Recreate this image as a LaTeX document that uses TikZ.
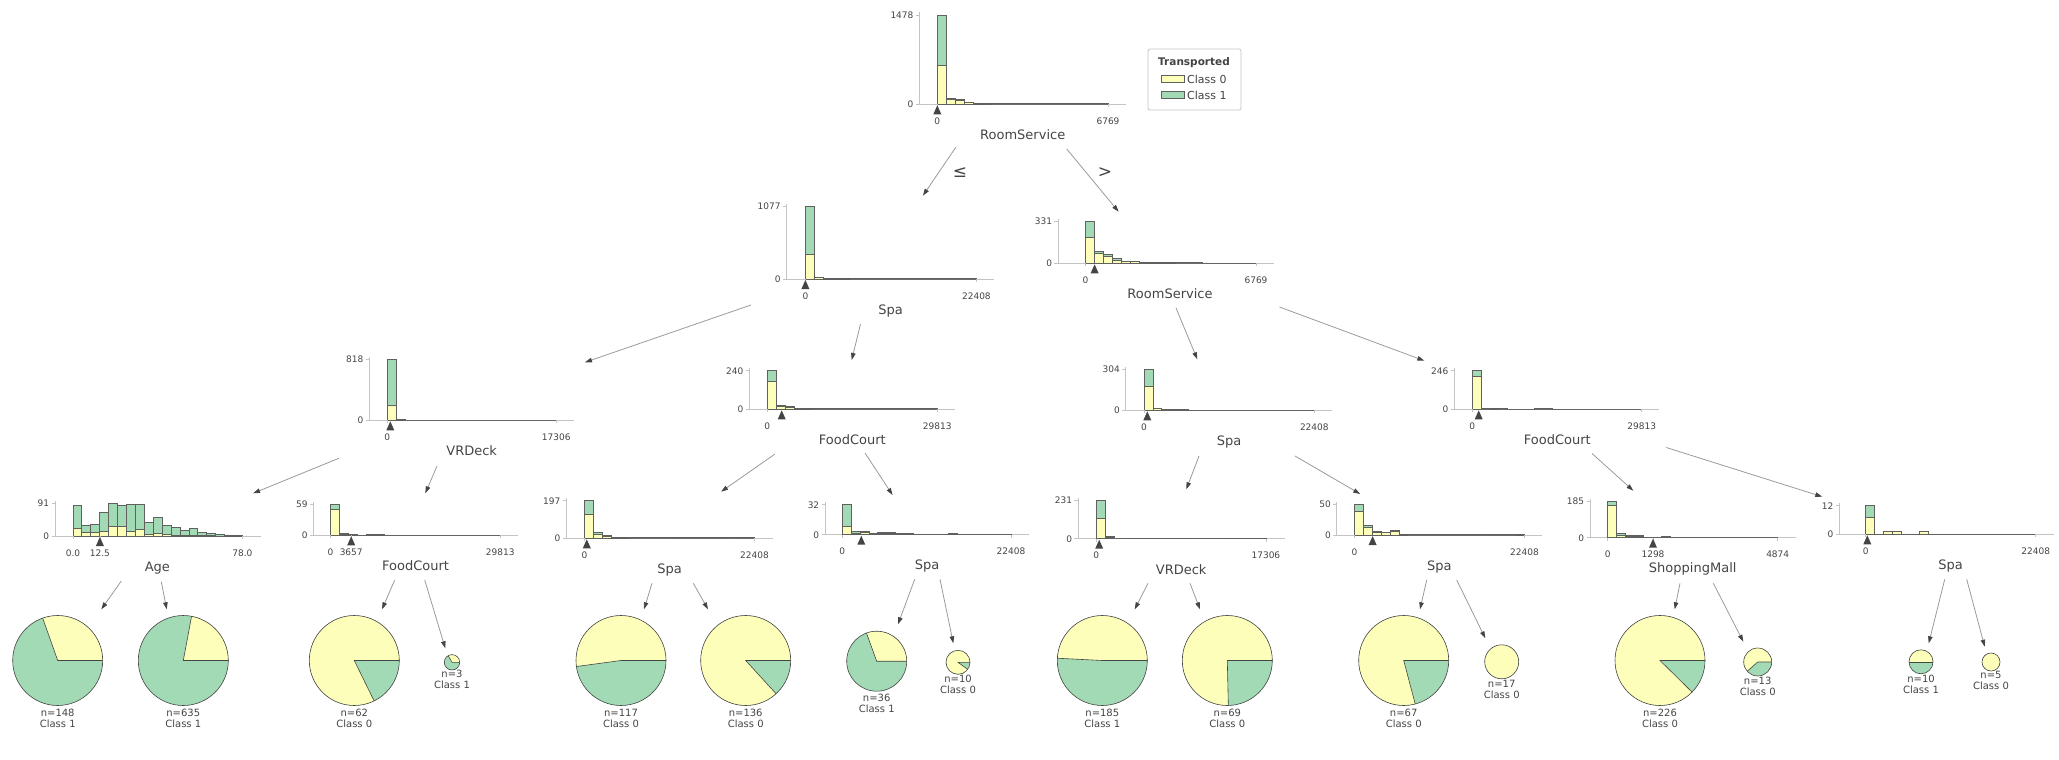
\documentclass[tikz,border=0pt]{standalone}
\usepackage{fontspec}
\setmainfont{DejaVu Sans}
\usetikzlibrary{arrows.meta}
\definecolor{classzero}{HTML}{FEFEBB}
\definecolor{classone}{HTML}{A1DAB4}
\definecolor{txt}{HTML}{444443}
\definecolor{axisgray}{HTML}{C4C4C4}
\definecolor{edgegray}{HTML}{9A9A9A}

\tikzset{
  axis/.style={draw=axisgray, line width=0.8pt},
  bar/.style={draw=txt!85, line width=0.9pt},
  fname/.style={font=\fontsize{13}{15}\selectfont, text=txt, inner sep=0pt, text height=0.73em, text depth=0pt},
  ticklbl/.style={font=\fontsize{9}{10}\selectfont, text=txt, inner sep=0pt, text height=0.73em, text depth=0pt},
  leaflbl/.style={font=\fontsize{10}{11}\selectfont, text=txt, inner sep=0pt, text height=0.73em, text depth=0pt},
  edge/.style={draw=edgegray, line width=0.8pt, -{Triangle[length=7pt,width=4.5pt,color=txt]}},
  pieline/.style={draw=txt, line width=0.6pt},
  pienode/.style={circle, inner sep=0pt},
}

% y axis, x axis and the two y ticks
\newcommand{\haxes}[5]{%
  \draw[axis] (#1,#2) -- (#5,#2);
  \draw[axis] (#1,#2) -- (#1,#3-2.5);
  \draw[axis] (#1,#3) -- (#1-3.5,#3) node[ticklbl,anchor=east,xshift=-2pt] {#4};
  \draw[axis] (#1,#2) -- (#1-3.5,#2) node[ticklbl,anchor=east,xshift=-2pt] {0};}
\newcommand{\xtick}[3]{%
  \draw[axis] (#1,#2) -- (#1,#2+3);
  \node[ticklbl] at (#1,#2+16.5) {#3};}
\newcommand{\splitmark}[2]{\fill[txt] (#1,#2+1) -- (#1+4,#2+10) -- (#1-4,#2+10) -- cycle;}
% stacked bars: x0, base, width, list of total/class-0 heights
\newcommand{\bars}[4]{%
  \foreach \hgt/\hy [count=\i from 0] in {#4}{
    \filldraw[bar,fill=classzero] ({#1+\i*#3},#2) rectangle ++(#3,-\hy);
    \filldraw[bar,fill=classone] ({#1+\i*#3},{#2-\hy}) rectangle ++(#3,{\hy-\hgt});
  }}
% leaf pie: name, x, y, radius, class-0 angle, n, class, label y
\newcommand{\pie}[8]{%
  \node[pienode, minimum size=2*#4] (#1) at (#2,#3) {};
  \fill[classone] (#1.center) circle (#4);
  \fill[classzero] (#1.center) -- ++(0:#4) arc[start angle=0, end angle=-#5, radius=#4] -- cycle;
  \draw[pieline] (#1.center) circle (#4);
  \ifdim #5pt<360pt \draw[pieline] (#1.center) ++(-#5:#4) -- (#1.center) -- ++(0:#4); \fi
  \node[leaflbl] (#1-n) at (#2,#8) {n=#6};
  \node[leaflbl] (#1-c) at (#2,#8+11) {Class #7};}

\begin{document}
\begin{tikzpicture}[x=1pt,y=-1pt]
\useasboundingbox (0,0) rectangle (2059,760);

% root
\haxes{919.3}{104.3}{15}{1478}{1126}
\bars{937.3}{104.3}{9}{89.3/38.6, 5.6/4.4, 4.6/3.6, 2.3/1.8, 1.2/0.9, 1/0.8, 0.5/0.5, 0.5/0.5, 0.8/0.8, 0.6/0.6, 0.6/0.6, 0.5/0.5, 0.5/0.5, 0.5/0.5, 0.5/0.5, 0.5/0.5, 0.5/0.5, 0.4/0.4, 0.4/0.4}
\xtick{937.3}{104.3}{0} \xtick{1108}{104.3}{6769}
\splitmark{937.3}{104.3}
\node[fname] (root) at (1022.7,136) {RoomService};
\coordinate (root-l) at (956,147);
\coordinate (root-r) at (1066.7,149);

% legend
\draw[draw=axisgray, fill=white, rounded corners=2pt, line width=0.8pt] (1148,49) rectangle (1241,110);
\node[font=\bfseries\fontsize{10.5}{12}\selectfont, text=txt] (lgd) at (1194,62.3) {Transported};
\filldraw[bar, line width=0.6pt, fill=classzero] (1161,75.7) rectangle (1184,82.3);
\node[font=\fontsize{11}{12}\selectfont, text=txt, anchor=west, inner sep=0pt] (lgd0) at (1187,79) {Class 0};
\filldraw[bar, line width=0.6pt, fill=classone] (1161,91.7) rectangle (1184,98.3);
\node[font=\fontsize{11}{12}\selectfont, text=txt, anchor=west, inner sep=0pt] (lgd1) at (1187,95) {Class 1};

% level 2: Spa
\haxes{786.4}{279}{206}{1077}{994}
\bars{805.4}{279}{9}{73/24.3, 2/1.5, 1/0.8, 0.7/0.7, 0.7/0.7, 0.5/0.5, 0.5/0.5, 0.5/0.5, 0.5/0.5, 0.5/0.5, 0.5/0.5, 0.5/0.5, 0.5/0.5, 0.5/0.5, 0.5/0.5, 0.5/0.5, 0.5/0.5, 0.5/0.5, 0.5/0.5}
\xtick{805.4}{279}{0} \xtick{976.4}{279}{22408}
\splitmark{805.4}{279}
\node[fname] (spaA) at (890.7,311) {Spa};
\coordinate (spaA-in) at (922.9,195.7);
\coordinate (spaA-l) at (751,305);
\coordinate (spaA-r) at (860.5,324);

% level 2: RoomService
\haxes{1057.9}{263.3}{221.3}{331}{1274}
\bars{1085.4}{263.3}{8.98}{42/26, 12.3/10, 9.3/7, 5/3, 2.3/1.8, 2.3/1.8, 1/0.7, 1.3/1, 1/0.8, 1/0.8, 0.8/0.8, 0.5/0.5, 0.8/0.8, 0.3/0.3, 0.3/0.3, 0.3/0.3, 0.3/0.3, 0.3/0.3, 0.3/0.3}
\xtick{1085.4}{263.3}{0} \xtick{1256}{263.3}{6769}
\splitmark{1094.6}{263.3}
\node[fname] (rsB) at (1170,295) {RoomService};
\coordinate (rsB-in) at (1118.6,211.7);
\coordinate (rsB-l) at (1176,308);
\coordinate (rsB-r) at (1279.5,307);

% level 3: VRDeck
\haxes{369.3}{420.3}{359.3}{818}{574}
\bars{387.3}{420.3}{8.9}{61/15, 1.3/1, 0.3/0.3, 0.3/0.3, 0.3/0.3, 0.3/0.3, 0.3/0.3, 0.3/0.3, 0.3/0.3, 0.3/0.3, 0.3/0.3, 0.3/0.3, 0.3/0.3, 0.3/0.3, 0.3/0.3, 0.3/0.3, 0.3/0.3, 0.3/0.3, 0.3/0.3}
\xtick{387.3}{420.3}{0} \xtick{556.3}{420.3}{17306}
\splitmark{390.3}{420.3}
\node[fname] (vrA) at (471.7,452.3) {VRDeck};
\coordinate (vrA-in) at (585,362.3);
\coordinate (vrA-l) at (338.8,458.3);
\coordinate (vrA-r) at (437,466);

% level 3: FoodCourt
\haxes{749.3}{409.3}{370.7}{240}{955}
\bars{767.3}{409.3}{8.95}{38.6/27.6, 4/2.5, 3/2, 1.3/1, 1/0.7, 0.5/0.5, 0.5/0.5, 0.5/0.5, 0.5/0.5, 0.5/0.5, 0.5/0.5, 0.5/0.5, 0.5/0.5, 0.5/0.5, 0.5/0.5, 0.5/0.5, 0.5/0.5, 0.5/0.5, 0.5/0.5}
\xtick{767.3}{409.3}{0} \xtick{937.3}{409.3}{29813}
\splitmark{781.7}{409.3}
\node[fname] (fcA) at (852.3,440.7) {FoodCourt};
\coordinate (fcA-in) at (851.7,360);
\coordinate (fcA-l) at (775,454);
\coordinate (fcA-r) at (865,453);

% level 3: Spa
\haxes{1125.7}{410.3}{369.3}{304}{1331.7}
\bars{1144}{410.3}{8.96}{41/24.3, 2/1.5, 1/0.8, 1/0.8, 1.3/1, 0.3/0.3, 0.3/0.3, 0.3/0.3, 0.3/0.3, 0.3/0.3, 0.3/0.3, 0.3/0.3, 0.3/0.3, 0.3/0.3, 0.3/0.3, 0.3/0.3, 0.3/0.3, 0.3/0.3, 0.3/0.3}
\xtick{1144}{410.3}{0} \xtick{1314.3}{410.3}{22408}
\splitmark{1147.3}{410.3}
\node[fname] (spaB) at (1229,442.3) {Spa};
\coordinate (spaB-in) at (1197.3,359.3);
\coordinate (spaB-l) at (1199,456);
\coordinate (spaB-r) at (1295,456);

% level 3: FoodCourt
\haxes{1454.3}{409.3}{370.7}{246}{1659.3}
\bars{1472.3}{409.3}{8.9}{38.6/32.6, 0.7/0.7, 1/0.8, 0.5/0.5, 0.3/0.3, 0.3/0.3, 0.3/0.3, 0.5/0.5, 0.5/0.5, 0.3/0.3, 0.3/0.3, 0.3/0.3, 0.3/0.3, 0.3/0.3, 0.3/0.3, 0.3/0.3, 0.3/0.3, 0.3/0.3, 0.3/0.3}
\xtick{1472.3}{409.3}{0} \xtick{1641.7}{409.3}{29813}
\splitmark{1478.7}{409.3}
\node[fname] (fcB) at (1557.3,440.7) {FoodCourt};
\coordinate (fcB-in) at (1424.3,360.7);
\coordinate (fcB-l) at (1592,453.5);
\coordinate (fcB-r) at (1666.2,447.5);

% level 4: Age
\haxes{55.1}{536}{503.3}{91}{260.7}
\bars{73}{536}{8.92}{30.7/7.3, 10.3/3.7, 11.7/3.7, 23.3/4.7, 32.7/9.3, 31/9.3, 32/4.7, 31.7/7, 13.3/1.7, 18.3/2.7, 11/1.7, 8.3/1, 5.3/0.7, 7.7/0.7, 3.7/0.3, 2.7/0.3, 1.7/0, 1/0, 0.7/0}
\xtick{73}{536}{0.0} \xtick{99.9}{536}{12.5} \xtick{242.4}{536}{78.0}
\splitmark{99.9}{536}
\node[fname] (age) at (157.4,567.7) {Age};
\coordinate (age-in) at (253.1,493.3);
\coordinate (age-l) at (121.3,581);
\coordinate (age-r) at (161.3,581.7);

% level 4: FoodCourt
\haxes{313.4}{535.3}{504.3}{59}{518.3}
\bars{330.6}{535.3}{8.93}{31/25.6, 1.7/1.3, 1/0.8, 0.3/0.3, 1.3/1, 1.3/1, 0.3/0.3, 0.3/0.3, 0.3/0.3, 0.3/0.3, 0.3/0.3, 0.3/0.3, 0.3/0.3, 0.3/0.3, 0.3/0.3, 0.3/0.3, 0.3/0.3, 0.3/0.3, 0.3/0.3}
\xtick{330.6}{535.3}{0} \xtick{351.2}{535.3}{3657} \xtick{500.3}{535.3}{29813}
\splitmark{351.2}{535.3}
\node[fname] (fcC) at (415.6,566.7) {FoodCourt};
\coordinate (fcC-in) at (425.3,493.3);
\coordinate (fcC-l) at (394.7,580);
\coordinate (fcC-r) at (424.7,580);

% level 4: Spa
\haxes{566.2}{538.3}{500.7}{197}{772.8}
\bars{584.4}{538.3}{8.95}{37.6/24, 6/4, 3/2, 1/0.7, 1/0.7, 0.5/0.5, 0.5/0.5, 0.5/0.5, 0.5/0.5, 0.5/0.5, 0.5/0.5, 0.5/0.5, 0.5/0.5, 0.5/0.5, 0.5/0.5, 0.5/0.5, 0.5/0.5, 0.5/0.5, 0.5/0.5}
\xtick{584.4}{538.3}{0} \xtick{754.5}{538.3}{22408}
\splitmark{586.8}{538.3}
\node[fname] (spaC) at (669.5,570) {Spa};
\coordinate (spaC-in) at (721.1,491.7);
\coordinate (spaC-l) at (652,583.3);
\coordinate (spaC-r) at (693.3,583.3);

% level 4: Spa
\haxes{825.1}{534.7}{504.7}{32}{1028.6}
\bars{842.3}{534.7}{8.88}{30/8, 3/1.5, 3.3/2, 1/0.7, 2/1.3, 2/1.3, 1/0.5, 1/0.5, 0.5/0.5, 0.5/0.5, 0.5/0.5, 0.5/0.5, 1/0.5, 0.5/0.5, 0.5/0.5, 0.5/0.5, 0.5/0.5, 0.5/0.5, 0.5/0.5}
\xtick{842.3}{534.7}{0} \xtick{1011}{534.7}{22408}
\splitmark{861.3}{534.7}
\node[fname] (spaD) at (927,566) {Spa};
\coordinate (spaD-in) at (892.6,495);
\coordinate (spaD-l) at (914.7,579.3);
\coordinate (spaD-r) at (940,579.3);

% level 4: VRDeck
\haxes{1077.9}{538.7}{500}{231}{1284.5}
\bars{1096.1}{538.7}{8.94}{38.7/20, 2/1.3, 0.7/0.7, 0.3/0.3, 0.3/0.3, 0.3/0.3, 0.3/0.3, 0.3/0.3, 0.3/0.3, 0.3/0.3, 0.3/0.3, 0.3/0.3, 0.3/0.3, 0.3/0.3, 0.3/0.3, 0.3/0.3, 0.3/0.3, 0.3/0.3, 0.3/0.3}
\xtick{1096.1}{538.7}{0} \xtick{1265.9}{538.7}{17306}
\splitmark{1099.2}{538.7}
\node[fname] (vrB) at (1181.2,570.7) {VRDeck};
\coordinate (vrB-in) at (1186.3,489.3);
\coordinate (vrB-l) at (1148,583.3);
\coordinate (vrB-r) at (1190,583.3);

% level 4: Spa
\haxes{1336.8}{535}{504}{50}{1542}
\bars{1354.4}{535}{8.95}{31/23.3, 10/8, 3.3/2.7, 2.7/2.3, 4.7/4, 1/0.7, 0.3/0.3, 0.3/0.3, 0.3/0.3, 0.3/0.3, 0.3/0.3, 0.3/0.3, 0.3/0.3, 0.3/0.3, 0.3/0.3, 0.3/0.3, 0.3/0.3, 0.3/0.3, 1/0.7}
\xtick{1354.4}{535}{0} \xtick{1524.5}{535}{22408}
\splitmark{1372.6}{535}
\node[fname] (spaE) at (1439.4,567) {Spa};
\coordinate (spaE-in) at (1360.2,494);
\coordinate (spaE-l) at (1426.7,580);
\coordinate (spaE-r) at (1456.7,580);

% level 4: ShoppingMall
\haxes{1590}{537.7}{501}{185}{1796}
\bars{1607.7}{537.7}{8.95}{36.7/32.3, 4.3/2.3, 2/1.5, 2.3/1.7, 0.5/0.5, 0.5/0.5, 1/0.7, 0.3/0.3, 0.3/0.3, 0.3/0.3, 0.3/0.3, 0.3/0.3, 0.3/0.3, 0.3/0.3, 0.3/0.3, 0.3/0.3, 0.3/0.3, 0.3/0.3, 0.3/0.3}
\xtick{1607.7}{537.7}{0} \xtick{1653}{537.7}{1298} \xtick{1777.7}{537.7}{4874}
\splitmark{1653}{537.7}
\node[fname] (sm) at (1692.7,569.3) {ShoppingMall};
\coordinate (sm-in) at (1633.3,490.7);
\coordinate (sm-l) at (1680,583.3);
\coordinate (sm-r) at (1713.3,583.3);

% level 4: Spa
\haxes{1839.3}{534.3}{505.7}{12}{2054}
\bars{1865.7}{534.3}{8.95}{28.6/17, 0/0, 3/3, 3/3, 0/0, 0/0, 3/3, 0/0, 0/0, 0/0, 0/0, 0/0, 0/0, 0/0, 0/0, 0/0, 0/0, 0/0, 0/0}
\xtick{1865.7}{534.3}{0} \xtick{2035.7}{534.3}{22408}
\splitmark{1867.3}{534.3}
\node[fname] (spaF) at (1950.7,566) {Spa};
\coordinate (spaF-in) at (1822.3,496.7);
\coordinate (spaF-l) at (1944.7,579.3);
\coordinate (spaF-r) at (1966.7,579.3);

% leaves
\pie{p1}{57.7}{660.5}{45}{109.5}{148}{1}{713.3}
\pie{p2}{183.3}{660.5}{45}{79.4}{635}{1}{713.3}
\pie{p3}{354.3}{660.5}{45}{296.1}{62}{0}{713.3}
\pie{p4}{452}{662.3}{7.7}{120}{3}{1}{674.3}
\pie{p5}{621}{660.5}{45}{187.7}{117}{0}{713.3}
\pie{p6}{745.7}{660.5}{45}{312.4}{136}{0}{713.3}
\pie{p7}{876.7}{661.2}{30}{110}{36}{1}{697.7}
\pie{p8}{958}{662.3}{12}{324}{10}{0}{679.3}
\pie{p9}{1102.3}{660.5}{45}{177.1}{185}{1}{713.3}
\pie{p10}{1227.3}{660.5}{45}{271.3}{69}{0}{713.3}
\pie{p11}{1403.7}{660.5}{45}{284.8}{67}{0}{713.3}
\pie{p12}{1501.7}{661.8}{17}{360}{17}{0}{684}
\pie{p13}{1660}{660.5}{45}{315.4}{226}{0}{713.3}
\pie{p14}{1757.7}{662}{14}{221.5}{13}{0}{681}
\pie{p15}{1921}{661.8}{12}{180}{10}{1}{679}
\pie{p16}{1991}{662}{9}{360}{5}{0}{675.3}
\coordinate (p1-in) at (101.3,609.3);
\coordinate (p2-in) at (166.7,609.3);
\coordinate (p3-in) at (382,609.3);
\coordinate (p4-in) at (445.3,648.3);
\coordinate (p5-in) at (644,609.3);
\coordinate (p6-in) at (708,609.3);
\coordinate (p7-in) at (898,624.3);
\coordinate (p8-in) at (953.3,643.3);
\coordinate (p9-in) at (1134.7,609.3);
\coordinate (p10-in) at (1200,609.3);
\coordinate (p11-in) at (1420,609.3);
\coordinate (p12-in) at (1485.3,638.3);
\coordinate (p13-in) at (1674.7,609.3);
\coordinate (p14-in) at (1743.3,641.7);
\coordinate (p15-in) at (1928.7,643.3);
\coordinate (p16-in) at (1984.7,646.7);

% connectors
\draw[edge] (root-l) -- (spaA-in);
\draw[edge] (root-r) -- (rsB-in);
\node[font=\fontsize{17}{19}\selectfont, text=txt] (le) at (960,173) {≤};
\node[font=\fontsize{17}{19}\selectfont, text=txt] (gt) at (1105,172.3) {>};
\draw[edge] (spaA-l) -- (vrA-in);
\draw[edge] (spaA-r) -- (fcA-in);
\draw[edge] (rsB-l) -- (spaB-in);
\draw[edge] (rsB-r) -- (fcB-in);
\draw[edge] (vrA-l) -- (age-in);
\draw[edge] (vrA-r) -- (fcC-in);
\draw[edge] (fcA-l) -- (spaC-in);
\draw[edge] (fcA-r) -- (spaD-in);
\draw[edge] (spaB-l) -- (vrB-in);
\draw[edge] (spaB-r) -- (spaE-in);
\draw[edge] (fcB-l) -- (sm-in);
\draw[edge] (fcB-r) -- (spaF-in);
\draw[edge] (age-l) -- (p1-in);
\draw[edge] (age-r) -- (p2-in);
\draw[edge] (fcC-l) -- (p3-in);
\draw[edge] (fcC-r) -- (p4-in);
\draw[edge] (spaC-l) -- (p5-in);
\draw[edge] (spaC-r) -- (p6-in);
\draw[edge] (spaD-l) -- (p7-in);
\draw[edge] (spaD-r) -- (p8-in);
\draw[edge] (vrB-l) -- (p9-in);
\draw[edge] (vrB-r) -- (p10-in);
\draw[edge] (spaE-l) -- (p11-in);
\draw[edge] (spaE-r) -- (p12-in);
\draw[edge] (sm-l) -- (p13-in);
\draw[edge] (sm-r) -- (p14-in);
\draw[edge] (spaF-l) -- (p15-in);
\draw[edge] (spaF-r) -- (p16-in);
\end{tikzpicture}
\end{document}
